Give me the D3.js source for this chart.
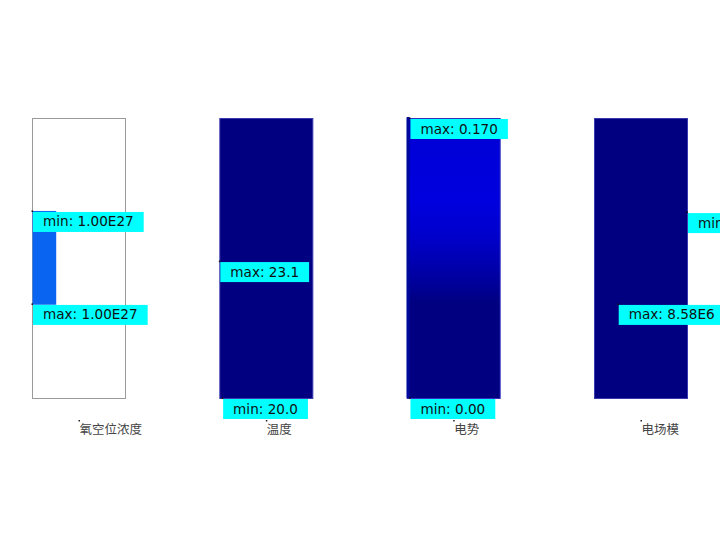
<!DOCTYPE html>
<html>
<head>
<meta charset="utf-8">
<script src="https://cdn.jsdelivr.net/npm/d3@7"></script>
<style>
  body { margin: 0; background: #fff; }
  .title { font-family: "Noto Sans CJK SC", sans-serif; font-size: 12.5px; fill: #444; }
  .tag text { font-family: "DejaVu Sans", sans-serif; font-size: 13.6px; fill: #111; }
</style>
</head>
<body>
<div id="chart"></div>
<script>
// panel titles (quantity shown in each column)
const titles = ["氧空位浓度", "温度", "电势", "电场模"];

// min / max annotations: panel index, label, location along the device (fraction of width, fraction of height)
const panelIdx = [0, 0, 1, 1, 2, 2, 3, 3];
const tagText  = ["min: 1.00E27", "max: 1.00E27", "max: 23.1", "min: 20.0",
                  "max: 0.170", "min: 0.00", "min: 9.0E-", "max: 8.58E6"];
const tagX     = [0, 0, 0, 0.03, 0.03, 0.03, 1, 0.255];
const tagY     = [0.332, 0.664, 0.511, 1.0, 0, 1.0, 0.336, 0.664];

// oxygen vacancy filament (fraction of the column)
const filamentX = [0, 0.255];
const filamentY = [0.332, 0.667];

// electric potential sampled down the column (V), top to bottom
const potDepth = [0, 0.15, 0.3, 0.42, 0.52, 0.6, 0.66, 1.0];
const potValue = [0.150, 0.162, 0.170, 0.135, 0.085, 0.040, 0.0, 0.0];

const width = 720, height = 540;
const colW = 93, colH = 280;

const svg = d3.select("#chart").append("svg")
    .attr("width", width)
    .attr("height", height);

// column placement
const px = d3.scaleLinear().domain([0, 3]).range([32, 594]);
const fx = d3.scaleLinear().domain([0, 1]).range([0, colW]);
const fy = d3.scaleLinear().domain([0, 1]).range([118, 118 + colH]);

const potColor = d3.scaleLinear().domain([0, 0.170]).range(["#000080", "#0000de"]);

// gradient for the potential column
const grad = svg.append("defs").append("linearGradient")
    .attr("id", "potGrad")
    .attr("x1", 0).attr("y1", 0).attr("x2", 0).attr("y2", 1);
grad.selectAll("stop")
    .data(potDepth)
    .join("stop")
    .attr("offset", d => d)
    .attr("stop-color", (d, i) => potColor(potValue[i]));

const fills = ["#ffffff", "#000080", "url(#potGrad)", "#000080"];
const strokes = ["#9a9a9a", "#3a3ab0", "#3030c0", "#3a3ab0"];

const panels = svg.selectAll("g.panel")
    .data(titles)
    .join("g")
    .attr("class", "panel")
    .attr("transform", (d, i) => "translate(" + px(i) + ",0)");

panels.append("rect")
    .attr("x", fx(0) + 0.5)
    .attr("y", fy(0) + 0.5)
    .attr("width", colW)
    .attr("height", colH)
    .attr("fill", (d, i) => fills[i])
    .attr("stroke", (d, i) => strokes[i])
    .attr("stroke-width", 1);

// filament in the first column
panels.filter((d, i) => i === 0).append("rect")
    .attr("x", fx(filamentX[0]) + 0.5)
    .attr("y", fy(filamentY[0]))
    .attr("width", fx(filamentX[1]) - fx(filamentX[0]))
    .attr("height", fy(filamentY[1]) - fy(filamentY[0]))
    .attr("fill", "#0a64f2");

// darker edge line in the potential column
panels.filter((d, i) => i === 2).append("rect")
    .attr("x", fx(0))
    .attr("y", fy(0) - 1)
    .attr("width", 3)
    .attr("height", colH + 1)
    .attr("fill", "#000a9a");

// titles with their small anchor dot
panels.append("rect")
    .attr("x", colW / 2)
    .attr("y", 420)
    .attr("width", 1.5)
    .attr("height", 1.5)
    .attr("fill", "#222");

panels.append("text")
    .attr("class", "title")
    .attr("x", colW / 2 + 1)
    .attr("y", 434)
    .text(d => d);

// min / max tags
const tags = svg.selectAll("g.tag")
    .data(tagText)
    .join("g")
    .attr("class", "tag")
    .attr("transform", (d, i) => "translate(" + (px(panelIdx[i]) + fx(tagX[i])) + "," + fy(tagY[i]) + ")");

tags.append("rect").attr("class", "box");
tags.append("text")
    .attr("x", 11)
    .attr("y", 15.5)
    .text(d => d);

tags.each(function() {
    const g = d3.select(this);
    const w = g.select("text").node().getComputedTextLength();
    g.select("rect.box")
        .attr("x", 1)
        .attr("y", 1)
        .attr("width", w + 20)
        .attr("height", 20)
        .attr("fill", "#00ffff");
});

// marker at each extreme point
tags.append("rect")
    .attr("x", -0.5)
    .attr("y", -0.5)
    .attr("width", 1.5)
    .attr("height", 1.5)
    .attr("fill", "#111");
</script>
</body>
</html>
